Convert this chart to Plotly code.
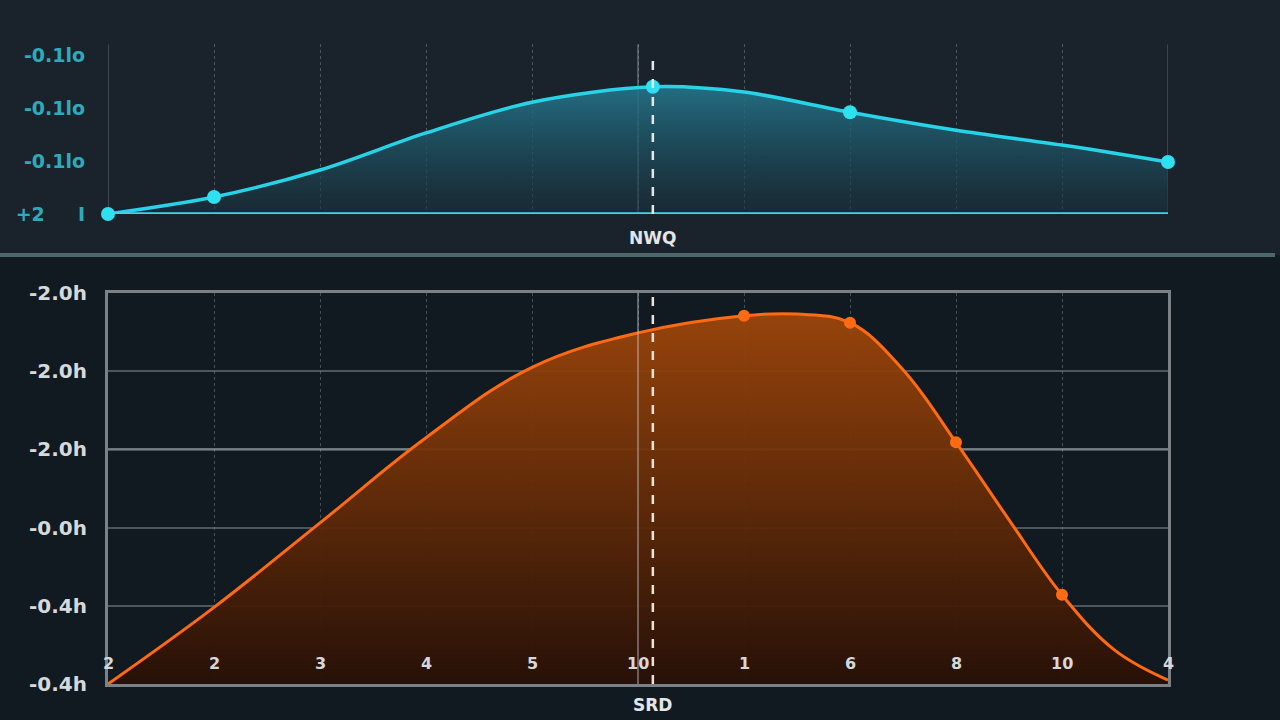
import plotly.graph_objects as go
from plotly.subplots import make_subplots

# upper panel (cyan)
top_x = [0, 1, 2, 3, 4, 5.14, 6, 7, 8, 9, 10]
top_y = [0, 0.32, 0.83, 1.53, 2.11, 2.40, 2.30, 1.92, 1.58, 1.30, 0.98]
top_marker_x = [0, 1, 5.14, 7, 10]
top_marker_y = [0, 0.32, 2.40, 1.92, 0.98]
top_tickvals = [0, 1, 2, 3]
top_ticktext = ["+2\u00a0\u00a0\u00a0\u00a0\u00a0I", "-0.1lo", "-0.1lo", "-0.1lo"]

# lower panel (orange)
bot_x = [0, 1, 2, 3, 4, 5, 6, 6.5, 7, 7.5, 8, 8.5, 9, 9.5, 10]
bot_y = [0, 0.98, 2.06, 3.15, 4.05, 4.49, 4.71, 4.73, 4.62, 4.02, 3.09, 2.10, 1.14, 0.43, 0.05]
bot_marker_x = [6, 7, 8, 9]
bot_marker_y = [4.71, 4.62, 3.09, 1.14]
bot_tickvals = [0, 1, 2, 3, 4, 5]
bot_ticktext = ["-0.4h", "-0.4h", "-0.0h", "-2.0h", "-2.0h", "-2.0h"]
x_tickvals = [0, 1, 2, 3, 4, 5, 6, 7, 8, 9, 10]
x_ticktext = ["2", "2", "3", "4", "5", "10", "1", "6", "8", "10", "4"]

cursor_x = 5.14

fig = make_subplots(rows=2, cols=1)

fig.add_trace(go.Scatter(
    x=top_x, y=top_y, mode="lines",
    line=dict(color="#27d3e6", width=3.5, shape="spline", smoothing=0.9),
    fill="tozeroy",
    fillgradient=dict(type="vertical",
                      colorscale=[[0, "rgba(24,46,58,0.6)"], [1, "rgba(36,116,138,0.92)"]]),
    cliponaxis=False, hoverinfo="skip"), row=1, col=1)
fig.add_trace(go.Scatter(
    x=[top_x[0], top_x[-1]], y=[0, 0], mode="lines",
    line=dict(color="#3fd6ea", width=3.5), cliponaxis=False), row=1, col=1)
fig.add_trace(go.Scatter(
    x=top_marker_x, y=top_marker_y, mode="markers",
    marker=dict(color="#2ee0f0", size=14), cliponaxis=False), row=1, col=1)

fig.add_trace(go.Scatter(
    x=bot_x, y=bot_y, mode="lines",
    line=dict(color="#ff6a12", width=3, shape="spline", smoothing=1.1),
    fill="tozeroy",
    fillgradient=dict(type="vertical",
                      colorscale=[[0, "rgba(40,16,6,0.95)"], [1, "rgba(158,70,10,0.95)"]]),
    cliponaxis=False, hoverinfo="skip"), row=2, col=1)
fig.add_trace(go.Scatter(
    x=bot_marker_x, y=bot_marker_y, mode="markers",
    marker=dict(color="#ff6a12", size=12), cliponaxis=False), row=2, col=1)

grid = "rgba(170,180,190,0.35)"
fig.update_xaxes(range=[0, 10], tickvals=x_tickvals, showticklabels=False, showgrid=True,
                 gridcolor=grid, griddash="dot", gridwidth=1, zeroline=False, showline=False,
                 automargin=False)
fig.update_xaxes(domain=[0, 1], row=1, col=1)
fig.update_xaxes(showline=True, linecolor="#7a8288", linewidth=3, mirror=True, row=2, col=1)

fig.update_yaxes(domain=[1 - 214 / 720, 1 - 44.4 / 720], range=[0, 3.2],
                 tickvals=top_tickvals, ticktext=top_ticktext, showgrid=False,
                 zeroline=False, ticks="", ticklabelstandoff=22, automargin=False,
                 tickfont=dict(color="#2eaabd", size=19, family="DejaVu Sans", weight="bold"),
                 row=1, col=1)
fig.update_yaxes(domain=[1 - 684 / 720, 1 - 293 / 720], range=[0, 5],
                 tickvals=bot_tickvals, ticktext=bot_ticktext, showgrid=True,
                 gridcolor="rgba(150,158,166,0.45)", gridwidth=2, zeroline=False,
                 ticks="", ticklabelstandoff=14, automargin=False,
                 showline=True, linecolor="#7a8288", linewidth=3, mirror=True,
                 tickfont=dict(color="#d6d9dc", size=20, family="DejaVu Sans", weight="bold"),
                 row=2, col=1)

shapes = [
    # two-tone background
    dict(type="rect", xref="paper", yref="paper", x0=-0.2, x1=1.2, y0=1 - 255 / 720, y1=1.1,
         fillcolor="#1a232b", line_width=0, layer="below"),
    # separator
    dict(type="line", xref="paper", yref="paper", x0=-108 / 1060, x1=1 + 107 / 1060,
         y0=1 - 255 / 720, y1=1 - 255 / 720, line=dict(color="#4c6769", width=4)),
    # solid gridlines at the left edge and centre of the upper panel
    dict(type="line", xref="x", yref="y domain", x0=0, x1=0, y0=0, y1=1,
         line=dict(color="rgba(150,160,170,0.4)", width=1.5), layer="below"),
    dict(type="line", xref="x", yref="y domain", x0=5, x1=5, y0=0, y1=1,
         line=dict(color="rgba(180,190,200,0.45)", width=1.5), layer="below"),
    dict(type="line", xref="x", yref="y domain", x0=10, x1=10, y0=0, y1=1,
         line=dict(color="rgba(150,160,170,0.35)", width=1.5), layer="below"),
    dict(type="line", xref="x2", yref="y2 domain", x0=5, x1=5, y0=0, y1=1,
         line=dict(color="rgba(200,205,210,0.55)", width=1.5)),
    dict(type="line", xref="x2 domain", yref="y2", x0=0, x1=1, y0=3, y1=3,
         line=dict(color="rgba(170,176,182,0.5)", width=2.5), layer="below"),
    # cursor
    dict(type="line", xref="x", yref="y domain", x0=cursor_x, x1=cursor_x, y0=0, y1=0.94,
         line=dict(color="#e6e6e6", width=2.5, dash="dash")),
    dict(type="line", xref="x2", yref="y2 domain", x0=cursor_x, x1=cursor_x, y0=0, y1=1,
         line=dict(color="#ece2d8", width=2.5, dash="dash")),
]

annotations = [
    dict(text="<b>NWQ</b>", x=cursor_x, y=1 - 238 / 720, xref="x", yref="paper", showarrow=False,
         yanchor="middle", font=dict(color="#e4e6e8", size=17, family="DejaVu Sans")),
    dict(text="<b>SRD</b>", x=cursor_x, y=1 - 705 / 720, xref="x2", yref="paper", showarrow=False,
         yanchor="middle", font=dict(color="#e4e6e8", size=17, family="DejaVu Sans")),
]
# x tick labels sit inside the lower plot, just above its bottom edge
for xv, xt in zip(x_tickvals, x_ticktext):
    annotations.append(dict(text="<b>" + xt + "</b>", x=xv, y=1 - 663 / 720, xref="x2",
                            yref="paper", showarrow=False, yanchor="middle",
                            font=dict(color="#d6d9dc", size=16, family="DejaVu Sans")))

fig.update_layout(
    width=1280, height=720,
    margin=dict(l=108, r=112, t=0, b=0, autoexpand=False),
    paper_bgcolor="#121a21", plot_bgcolor="rgba(0,0,0,0)",
    showlegend=False, shapes=shapes, annotations=annotations,
)

fig.write_html("out.html", config={"displayModeBar": False},
               post_script="document.body.style.margin='0';")
